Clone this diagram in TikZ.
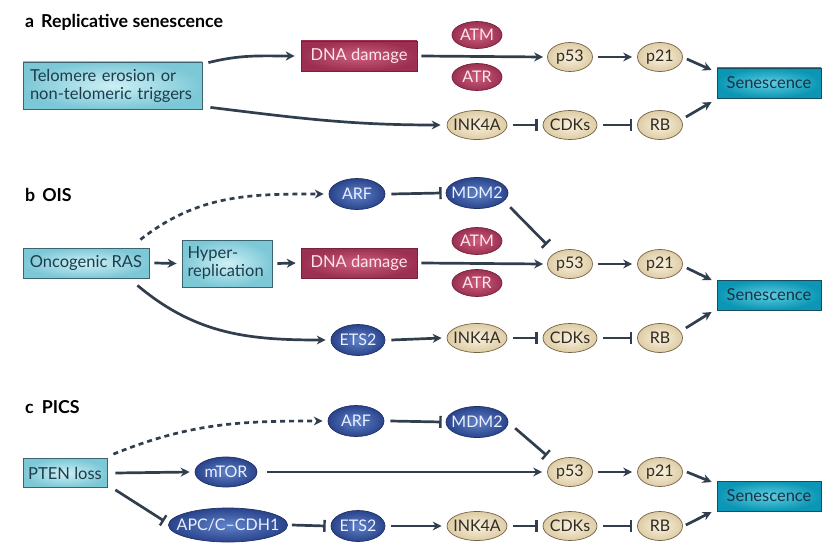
\documentclass[tikz,border=0pt]{standalone}
\usepackage{fontspec}
\setmainfont{Lato}
\usetikzlibrary{arrows.meta,shapes.geometric}
\definecolor{arr}{RGB}{48,62,78}
\definecolor{lbin}{RGB}{205,240,245}
\definecolor{lbout}{RGB}{125,200,215}
\definecolor{lbdraw}{RGB}{60,100,112}
\definecolor{lbtext}{RGB}{30,60,75}
\definecolor{snin}{RGB}{95,205,225}
\definecolor{snout}{RGB}{10,150,180}
\definecolor{sndraw}{RGB}{25,75,95}
\definecolor{sntext}{RGB}{25,50,70}
\definecolor{rdin}{RGB}{205,95,125}
\definecolor{rdout}{RGB}{155,48,82}
\definecolor{rddraw}{RGB}{115,35,60}
\definecolor{rdtext}{RGB}{255,228,236}
\definecolor{buin}{RGB}{95,130,200}
\definecolor{buout}{RGB}{42,68,140}
\definecolor{budraw}{RGB}{30,48,100}
\definecolor{butext}{RGB}{235,240,255}
\definecolor{bgin}{RGB}{248,242,222}
\definecolor{bgout}{RGB}{222,204,165}
\definecolor{bgdraw}{RGB}{115,98,70}
\definecolor{bgtext}{RGB}{50,42,35}
\newcommand\fs{\fontsize{16.5}{18}\selectfont}
\newcommand\fe{\fontsize{16}{18}\selectfont}
\newcommand\ft{\fontsize{17.8}{19}\selectfont\bfseries}
\begin{document}
\begin{tikzpicture}[x=1pt,y=-1pt,
  lbox/.style={rectangle, draw=lbdraw, line width=0.8pt, inner color=lbin, outer color=lbout,
    font=\fs, text=lbtext, inner sep=0pt, align=left},
  senbox/.style={rectangle, draw=sndraw, line width=0.8pt, inner color=snin, outer color=snout,
    minimum width=104pt, minimum height=30pt, font=\fs, text=sntext, inner sep=0pt},
  dnabox/.style={rectangle, draw=rddraw, line width=0.6pt, inner color=rdin, outer color=rdout,
    minimum width=116pt, minimum height=30pt, font=\fs, text=rdtext, inner sep=0pt},
  ell/.style={ellipse, line width=0.7pt, inner sep=0pt},
  bge/.style={ell, draw=bgdraw, inner color=bgin, outer color=bgout, minimum height=29pt,
    label={[font=\fe, text=bgtext]center:#1}},
  rde/.style={ell, draw=rddraw, inner color=rdin, outer color=rdout, minimum width=50pt, minimum height=27pt,
    label={[font=\fe, text=rdtext]center:#1}},
  bue/.style={ell, draw=budraw, inner color=buin, outer color=buout, minimum height=31pt,
    label={[font=\fe, text=butext]center:#1}},
  ttl/.style={anchor=west, font=\ft, text=black, inner sep=0pt},
  act/.style={draw=arr, line width=2.7pt, -{Stealth[length=9pt,width=9pt]}},
  inh/.style={draw=arr, line width=2.7pt, -{Bar[width=12pt,line width=2.4pt]}},
  dsh/.style={act, dash pattern=on 5pt off 4pt}
]
\useasboundingbox (0,0) rectangle (833,551);

% ---------------- panel a ----------------
\node[ttl] (ta) at (25,22) {a\hspace{7pt}Replicative senescence};
\node[lbox, minimum width=179pt, minimum height=47pt, text width=165pt] (telo) at (112.5,85.5)
  {Telomere erosion or\\non-telomeric triggers};
\node[dnabox] (dnaa) at (359,56) {DNA damage};
\node[rde=ATM] (atma) at (477,35) {};
\node[rde=ATR] (atra) at (477,77) {};
\node[bge=p53, minimum width=45pt] (p53a) at (570,57) {};
\node[bge=p21, minimum width=45pt] (p21a) at (660,57) {};
\node[senbox] (sena) at (769,83) {Senescence};
\node[bge=INK4A, minimum width=60pt] (inka) at (477,125) {};
\node[bge=CDKs, minimum width=54pt] (cdka) at (570,125) {};
\node[bge=RB, minimum width=45pt] (rba) at (660,125) {};

\draw[act] ([shift={(6,1)}]telo.north east) to[out=14,in=180] ([xshift=-6pt]dnaa.west);
\draw[act] ([shift={(8,-2)}]telo.south east) to[out=-7,in=180] ([xshift=-6pt]inka.west);
\draw[act] ([xshift=4pt]dnaa.east) -- ([xshift=-4pt]p53a.west);
\draw[act] ([xshift=5pt]p53a.east) -- ([xshift=-5pt]p21a.west);
\draw[act] ([shift={(4,2)}]p21a.east) -- ([shift={(-5,-13)}]sena.west);
\draw[act] ([shift={(3,-8)}]rba.east) -- ([shift={(-5,19)}]sena.west);
\draw[inh] ([xshift=6pt]inka.east) -- ([xshift=-5pt]cdka.west);
\draw[inh] ([xshift=6pt]cdka.east) -- ([xshift=-5pt]rba.west);

% ---------------- panel b ----------------
\node[ttl] (tb) at (25,195) {b\hspace{7pt}OIS};
\node[bue=ARF, minimum width=56pt] (arfb) at (357,194) {};
\node[bue=MDM2, minimum width=62pt] (mdmb) at (477,193) {};
\node[lbox, minimum width=126pt, minimum height=30pt] (ras) at (86,263) {Oncogenic RAS};
\node[lbox, minimum width=90pt, minimum height=47pt, text width=79pt] (hyp) at (227,263.5) {Hyper-\\replication};
\node[dnabox] (dnab) at (359,263) {DNA damage};
\node[rde=ATM] (atmb) at (477,241) {};
\node[rde=ATR] (atrb) at (477,283) {};
\node[bge=p53, minimum width=45pt] (p53b) at (570,264) {};
\node[bge=p21, minimum width=45pt] (p21b) at (660,264) {};
\node[senbox] (senb) at (769,295) {Senescence};
\node[bue=ETS2, minimum width=54pt] (etsb) at (358,340) {};
\node[bge=INK4A, minimum width=60pt] (inkb) at (477,338) {};
\node[bge=CDKs, minimum width=54pt] (cdkb) at (570,338) {};
\node[bge=RB, minimum width=45pt] (rbb) at (660,338) {};

\draw[dsh] ([shift={(-9,-8)}]ras.north east) to[out=38,in=180] ([xshift=-5pt]arfb.west);
\draw[act] ([shift={(-12,7)}]ras.south east) to[out=-40,in=180] ([xshift=-5pt]etsb.west);
\draw[act] ([xshift=5pt]ras.east) -- ([xshift=-5pt]hyp.west);
\draw[act] ([xshift=5pt]hyp.east) -- ([xshift=-5pt]dnab.west);
\draw[inh] ([xshift=6pt]arfb.east) -- ([xshift=-4pt]mdmb.west);
\draw[inh] ([shift={(11,3)}]mdmb.south east) -- ([shift={(-7,-9)}]p53b.north west);
\draw[act] ([xshift=4pt]dnab.east) -- ([xshift=-4pt]p53b.west);
\draw[act] ([xshift=5pt]p53b.east) -- ([xshift=-5pt]p21b.west);
\draw[act] ([shift={(4,4)}]p21b.east) -- ([shift={(-5,-15)}]senb.west);
\draw[act] ([shift={(3,-10)}]rbb.east) -- ([shift={(-5,17)}]senb.west);
\draw[act] ([xshift=6pt]etsb.east) -- ([xshift=-5pt]inkb.west);
\draw[inh] ([xshift=6pt]inkb.east) -- ([xshift=-5pt]cdkb.west);
\draw[inh] ([xshift=6pt]cdkb.east) -- ([xshift=-5pt]rbb.west);

% ---------------- panel c ----------------
\node[ttl] (tc) at (25,407) {c\hspace{8pt}PICS};
\node[bue=ARF, minimum width=56pt] (arfc) at (356,421) {};
\node[bue=MDM2, minimum width=62pt] (mdmc) at (477,422) {};
\node[lbox, minimum width=84pt, minimum height=29pt] (pten) at (65,473) {PTEN loss};
\node[bue=mTOR, minimum width=62pt, minimum height=30pt] (mtor) at (226,472) {};
\node[bge=p53, minimum width=45pt] (p53c) at (570,472) {};
\node[bge=p21, minimum width=45pt] (p21c) at (660,472) {};
\node[senbox] (senc) at (769,496) {Senescence};
\node[bue=APC/C–CDH1, minimum width=119pt, minimum height=34pt] (apc) at (228,525) {};
\node[bue=ETS2, minimum width=54pt] (etsc) at (358,526) {};
\node[bge=INK4A, minimum width=60pt] (inkc) at (477,526) {};
\node[bge=CDKs, minimum width=54pt] (cdkc) at (570,526) {};
\node[bge=RB, minimum width=45pt] (rbc) at (660,526) {};

\draw[dsh] ([shift={(6,-4)}]pten.north east) to[out=22,in=180] ([xshift=-5pt]arfc.west);
\draw[act] ([xshift=8pt]pten.east) -- ([xshift=-5pt]mtor.west);
\draw[inh] ([shift={(8,2)}]pten.south east) -- ([shift={(-4,-4)}]apc.west);
\draw[act] ([xshift=10pt]mtor.east) -- ([xshift=-5pt]p53c.west);
\draw[inh] ([xshift=6pt]arfc.east) -- ([xshift=-4pt]mdmc.west);
\draw[inh] ([shift={(16,-5)}]mdmc.south east) -- ([shift={(-7,-6)}]p53c.north west);
\draw[act] ([xshift=5pt]p53c.east) -- ([xshift=-5pt]p21c.west);
\draw[act] ([shift={(4,0)}]p21c.east) -- ([shift={(-5,-14)}]senc.west);
\draw[act] ([shift={(3,-1)}]rbc.east) -- ([shift={(-5,16)}]senc.west);
\draw[inh] ([xshift=4pt]apc.east) -- ([xshift=-5pt]etsc.west);
\draw[act] ([xshift=6pt]etsc.east) -- ([xshift=-5pt]inkc.west);
\draw[inh] ([xshift=6pt]inkc.east) -- ([xshift=-5pt]cdkc.west);
\draw[inh] ([xshift=6pt]cdkc.east) -- ([xshift=-5pt]rbc.west);
\end{tikzpicture}
\end{document}
